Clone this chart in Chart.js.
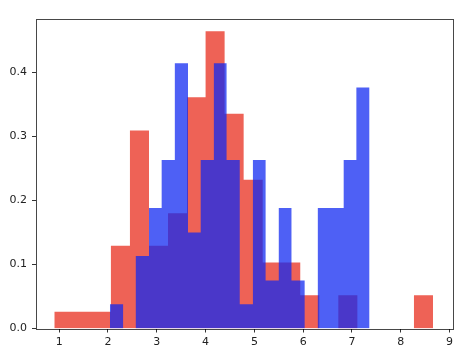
<!DOCTYPE html>
<html>
<head>
<meta charset="utf-8">
<script src="https://cdn.jsdelivr.net/npm/chart.js@4/dist/chart.umd.min.js"></script>
<style>
  html, body { margin: 0; padding: 0; background: #ffffff; }
  canvas { display: block; }
</style>
</head>
<body>
<canvas id="c" width="474" height="356"></canvas>
<script>
// Bin edges (x)
const redEdges  = [0.90, 1.29, 1.68, 2.06, 2.45, 2.84, 3.23, 3.62, 4.00, 4.39, 4.78,
                   5.17, 5.56, 5.94, 6.33, 6.72, 7.11, 7.50, 7.88, 8.27, 8.66];
const blueEdges = [2.04, 2.31, 2.57, 2.84, 3.10, 3.37, 3.64, 3.90, 4.17, 4.43, 4.70,
                   4.97, 5.23, 5.50, 5.76, 6.03, 6.30, 6.56, 6.83, 7.09, 7.36];
// Bar heights (density)
const redHeights  = [0.026, 0.026, 0.026, 0.129, 0.309, 0.129, 0.180, 0.361, 0.464, 0.335,
                     0.232, 0.103, 0.103, 0.052, 0.000, 0.052, 0.000, 0.000, 0.000, 0.052];
const blueHeights = [0.038, 0.000, 0.113, 0.188, 0.263, 0.414, 0.150, 0.263, 0.414, 0.263,
                     0.038, 0.263, 0.075, 0.188, 0.075, 0.000, 0.188, 0.188, 0.263, 0.376];
// Tick labels
const xTicks = [1, 2, 3, 4, 5, 6, 7, 8, 9];
const yTicks = [0.0, 0.1, 0.2, 0.3, 0.4];

function stepPoints(edges, heights) {
  const pts = heights.map((h, i) => ({ x: edges[i], y: h }));
  pts.push({ x: edges[edges.length - 1], y: 0 });
  return pts;
}

const framePlugin = {
  id: 'frame',
  afterDatasetsDraw(chart) {
    const a = chart.chartArea, ctx = chart.ctx;
    ctx.save();
    ctx.strokeStyle = 'rgba(0,0,0,0.72)';
    ctx.lineWidth = 1;
    ctx.strokeRect(Math.round(a.left) + 0.5, Math.round(a.top) + 0.5,
                   Math.round(a.right - a.left), Math.round(a.bottom - a.top));
    ctx.restore();
  }
};

const font = { family: 'DejaVu Sans', size: 11 };

new Chart(document.getElementById('c'), {
  type: 'line',
  data: {
    datasets: [
      {
        label: 'red',
        data: stepPoints(redEdges, redHeights),
        stepped: 'before',
        fill: 'origin',
        backgroundColor: 'rgb(238,98,86)',
        borderColor: 'transparent',
        borderWidth: 0,
        pointRadius: 0,
        order: 2
      },
      {
        label: 'blue',
        data: stepPoints(blueEdges, blueHeights),
        stepped: 'before',
        fill: 'origin',
        backgroundColor: 'rgba(16,40,242,0.74)',
        borderColor: 'transparent',
        borderWidth: 0,
        pointRadius: 0,
        order: 1
      }
    ]
  },
  options: {
    responsive: false,
    animation: false,
    events: [],
    layout: { padding: { left: 0, top: 19, right: 21, bottom: 0 } },
    plugins: { legend: { display: false }, tooltip: { enabled: false } },
    scales: {
      x: {
        type: 'linear',
        min: 0.525,
        max: 9.07,
        afterBuildTicks: s => { s.ticks = xTicks.map(v => ({ value: v })); },
        afterFit: s => { s.height = 27.5; },
        border: { display: false },
        grid: { display: true, drawOnChartArea: false, drawTicks: true, tickLength: 4, color: '#333', lineWidth: 1 },
        ticks: { color: '#222', font: font, padding: 3, maxRotation: 0, callback: v => String(v) }
      },
      y: {
        type: 'linear',
        min: 0,
        max: 0.483,
        afterBuildTicks: s => { s.ticks = yTicks.map(v => ({ value: v })); },
        afterFit: s => { s.width = 36; },
        border: { display: false },
        grid: { display: true, drawOnChartArea: false, drawTicks: true, tickLength: 4, color: '#333', lineWidth: 1 },
        ticks: { color: '#222', font: font, padding: 5, callback: v => Number(v).toFixed(1) }
      }
    }
  },
  plugins: [framePlugin]
});
</script>
</body>
</html>
